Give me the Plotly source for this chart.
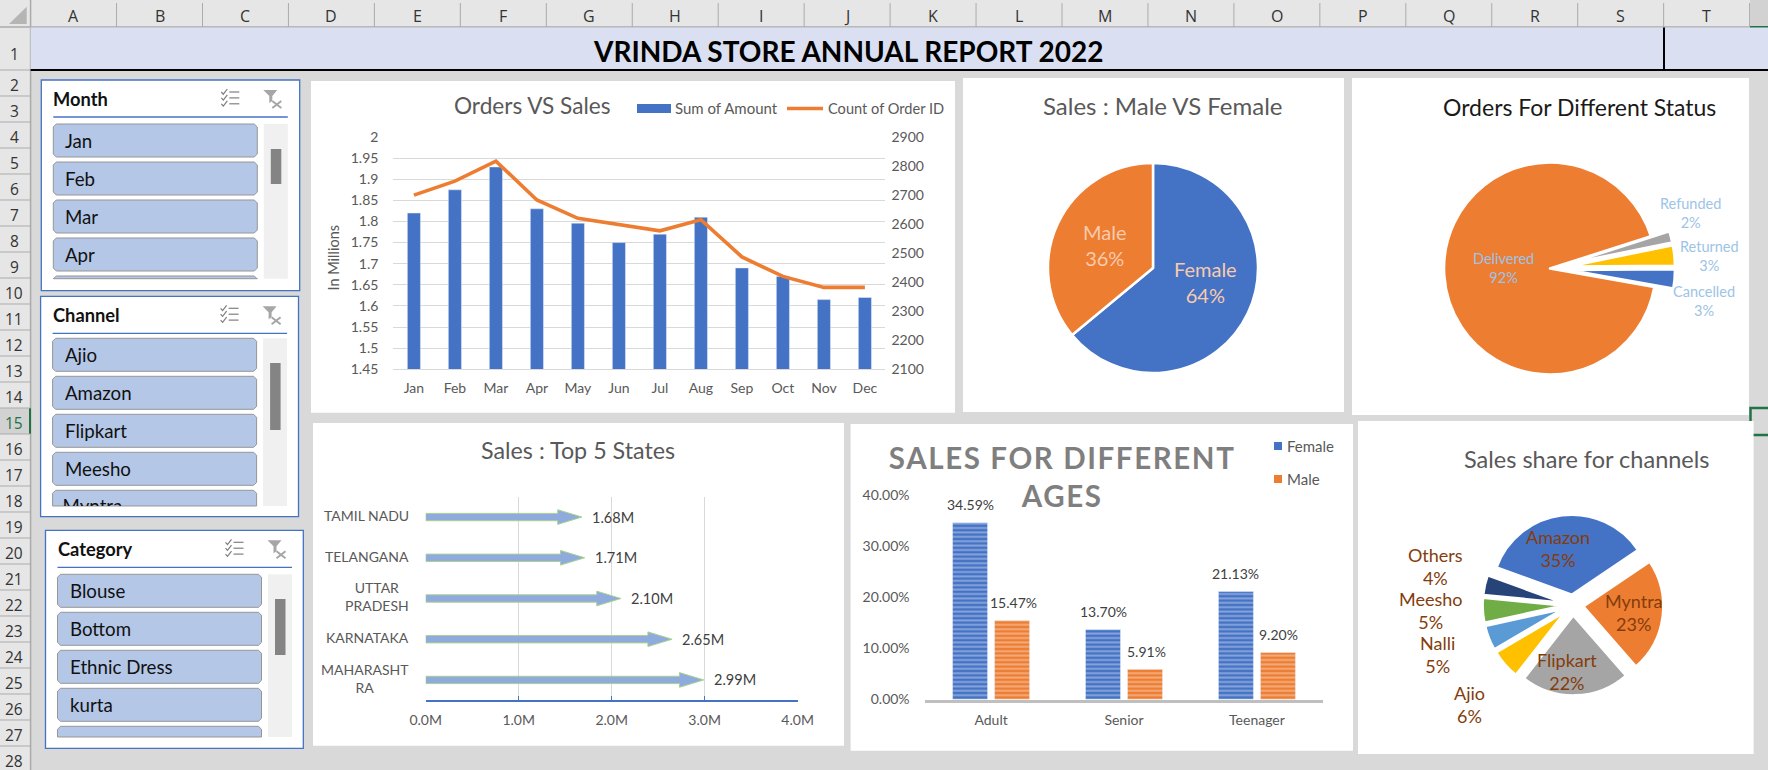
import plotly.graph_objects as go

# ---------- data ----------
months = ["Jan","Feb","Mar","Apr","May","Jun","Jul","Aug","Sep","Oct","Nov","Dec"]
sales_millions = [1.82,1.875,1.929,1.83,1.796,1.75,1.77,1.81,1.69,1.67,1.615,1.62]
order_counts = [2700,2748,2817,2683,2620,2600,2577,2615,2487,2420,2382,2382]

gender_labels = ["Female","Male"]
gender_values = [64,36]

status_labels = ["Delivered","Refunded","Returned","Cancelled"]
status_values = [92.3,1.7,3.1,2.9]

state_labels = ["MAHARASHT<br>RA","KARNATAKA","UTTAR<br>PRADESH","TELANGANA","TAMIL NADU"]
state_values = [2.99,2.65,2.10,1.71,1.68]

age_groups = ["Adult","Senior","Teenager"]
age_female = [34.59,13.70,21.13]
age_male = [15.47,5.91,9.20]

channel_labels = ["Amazon","Myntra","Flipkart","Ajio","Nalli","Meesho","Others"]
channel_values = [35,23,22,6,5,5,4]

month_items = ["Jan","Feb","Mar","Apr"]
channel_items = ["Ajio","Amazon","Flipkart","Meesho"]
category_items = ["Blouse","Bottom","Ethnic Dress","kurta"]
column_letters = list("ABCDEFGHIJKLMNOPQRST")

# ---------- helpers ----------
W, H = 1768, 770
BLUE, ORANGE, GRAY = "#4472C4", "#ED7D31", "#A5A5A5"
TXT, FONT = "#595959", "Lato"
X = lambda v: v / W
Y = lambda v: 1 - v / H
shapes, notes = [], []

def rect(x0, y0, x1, y1, fill=None, line=None, lw=1, layer="below"):
    shapes.append(dict(type="rect", xref="paper", yref="paper", x0=X(x0), x1=X(x1), y0=Y(y0), y1=Y(y1),
                       fillcolor=fill or "rgba(0,0,0,0)", line=dict(color=line or "rgba(0,0,0,0)", width=lw if line else 0), layer=layer))

def seg(x0, y0, x1, y1, color, lw=1):
    shapes.append(dict(type="line", xref="paper", yref="paper", x0=X(x0), x1=X(x1), y0=Y(y0), y1=Y(y1),
                       line=dict(color=color, width=lw), layer="below"))

def poly(points, fill=None, line=None, lw=1):
    d = "M" + " L".join(f"{X(a):.5f},{Y(b):.5f}" for a, b in points)
    shapes.append(dict(type="path", xref="paper", yref="paper", path=d + (" Z" if fill else ""),
                       fillcolor=fill or "rgba(0,0,0,0)", line=dict(color=line or "rgba(0,0,0,0)", width=lw if line else 0), layer="below"))

def note(x, y, text, size=14, color=TXT, anchor="center", font=FONT, **kw):
    notes.append(dict(xref="paper", yref="paper", x=X(x), y=Y(y), text=text, showarrow=False, xanchor=anchor,
                      yanchor="middle", font=dict(family=font, size=size, color=color), **kw))

def button(x0, y0, x1, y1, r=3, bottom=True):
    pts = [(x0, y1 - (r if bottom else 0)), (x0, y0 + r), (x0 + r, y0), (x1 - r, y0), (x1, y0 + r), (x1, y1 - (r if bottom else 0))]
    if bottom:
        pts += [(x1 - r, y1), (x0 + r, y1)]
    d = "M" + " L".join(f"{X(a):.5f},{Y(b):.5f}" for a, b in pts)
    shapes.append(dict(type="path", xref="paper", yref="paper", path=d + " Z", fillcolor="#B4C7E7",
                       line=dict(color="#969696", width=1), layer="below"))

def slicer(l, t, r, b, title, items, track_bottom, thumb_top, thumb_bot, first=44):
    rect(l, t, r, b, "#FFFFFF", BLUE, 1.3)
    note(l + 10, t + 19, f"<b>{title}</b>", 18.3, "#111111", "left")
    seg(l + 12, t + 37, l + 246.5, t + 37, BLUE, 1.3)
    y = t + first
    for it in items:
        button(l + 12, y, l + 216, y + 33)
        note(l + 22, y + 17, it, 18.7, "#111111", "left")
        y += 38
    button(l + 12, y, l + 216, track_bottom, bottom=False)
    rect(l + 222.5, t + first, l + 246.5, track_bottom, "#F0F0F0")
    rect(l + 229.5, thumb_top, l + 240, thumb_bot, "#848484")
    cy = t + 12
    for k in range(3):
        yy = cy + k * 5.9
        poly([(l + 180, yy), (l + 182, yy + 2.2), (l + 186, yy - 3)], None, "#7F7F7F", 1.2)
        seg(l + 188, yy, l + 198, yy, "#7F7F7F", 1.2)
    poly([(l + 222, t + 10), (l + 236, t + 10), (l + 231, t + 16), (l + 231, t + 21), (l + 228, t + 23), (l + 228, t + 16)], "#A6A6A6")
    seg(l + 231, t + 21, l + 240, t + 28, "#A6A6A6", 2)
    seg(l + 240, t + 21, l + 231, t + 28, "#A6A6A6", 2)

# ---------- sheet chrome ----------
rect(0, 0, W, 27, "#E6E6E6")
rect(0, 27, 30.6, H, "#E6E6E6")
seg(0, 27, W, 27, "#ABABAB", 1.5)
seg(30.6, 0, 30.6, H, "#ABABAB", 1.5)
poly([(26.7, 6.7), (26.7, 24), (9, 24)], "#B5B5B5")
col_w = 85.95
for i, letter in enumerate(column_letters):
    seg(30.6 + col_w * (i + 1), 3, 30.6 + col_w * (i + 1), 27, "#ABABAB", 1)
    note(30.6 + col_w * (i + 0.5), 16, letter, 16, "#333333", font="Open Sans")
rect(1750, 0, W, 27, "#D2D2D2")
seg(1750, 27, W, 27, "#217346", 2)
rect(0, 408, 30.6, 434, "#D2D2D2")
seg(30, 408, 30, 434, "#217346", 2)
for n in range(2, 29):
    seg(0, 70 + 26 * (n - 1), 30.6, 70 + 26 * (n - 1), "#ABABAB", 1)
    note(14, 85 + 26 * (n - 2), str(n), 15.5, "#217346" if n == 15 else "#333333", font="Open Sans")
note(14, 54, "1", 15.5, "#333333", font="Open Sans")
seg(0, 70, 30.6, 70, "#ABABAB", 1)

rect(30.6, 27.5, W, 70, "#DAE0F2")
seg(30.6, 70, W, 70, "#000000", 2)
seg(1664, 27.5, 1664, 70, "#000000", 2)
note(848, 51, "<b>VRINDA STORE ANNUAL REPORT 2022</b>", 28, "#000000")
rect(1750.5, 408, W + 5, 435, None, "#217346", 2.5)

# ---------- slicers ----------
slicer(41.3, 80, 299.7, 290.7, "Month", month_items, 278.7, 149, 184)
slicer(40.6, 296.3, 298.5, 516.7, "Channel", channel_items, 506, 363, 430, first=42)
slicer(45.5, 530.3, 303.3, 748.3, "Category", category_items, 737, 599, 655)

# ---------- panels ----------
rect(311, 81, 955, 412.7, "#FFFFFF")
rect(963, 78, 1344, 412, "#FFFFFF")
rect(1352, 78, 1749, 415, "#FFFFFF")
rect(313, 423, 844, 745.7, "#FFFFFF")
rect(850.6, 424, 1353, 750.7, "#FFFFFF")
rect(1358, 421, 1753.6, 754, "#FFFFFF")

traces = []

# ---------- orders vs sales ----------
traces.append(go.Bar(x=months, y=sales_millions, xaxis="x", yaxis="y", marker_color=BLUE, width=0.32, name="Sum of Amount"))
traces.append(go.Scatter(x=months, y=order_counts, xaxis="x", yaxis="y2", mode="lines",
                         line=dict(color=ORANGE, width=3.6), name="Count of Order ID"))
note(532, 106, "Orders VS Sales", 22.6, TXT)
note(333, 257.5, "In Millions", 14.5, TXT, textangle=-90)
rect(637, 104, 671, 113, BLUE)
seg(787, 108.5, 823, 108.5, ORANGE, 3.6)
note(673, 108, "Sum of Amount", 15, TXT, "left")
note(826, 108, "Count of Order ID", 14.6, TXT, "left")

# ---------- gender pie ----------
traces.append(go.Pie(labels=gender_labels, values=gender_values, sort=False, direction="clockwise", rotation=0,
                     textinfo="none", hole=0, marker=dict(colors=[BLUE, ORANGE], line=dict(color="#FFFFFF", width=2.5)),
                     domain=dict(x=[X(1048), X(1258)], y=[Y(373), Y(163)])))
note(1162.6, 105.5, "Sales : Male VS Female", 24, TXT)
for (lx, ly), lab, v in zip([(1205.6, 282.5), (1105, 244.5)], gender_labels, gender_values):
    note(lx, ly, f"{lab}<br>{v}%", 20, "#F8CBAD")

# ---------- status pie ----------
traces.append(go.Pie(labels=status_labels, values=status_values, sort=False, direction="clockwise", rotation=100,
                     textinfo="none", pull=[0, 0.18, 0.18, 0.18],
                     marker=dict(colors=[ORANGE, GRAY, "#FFC000", BLUE], line=dict(color="#FFFFFF", width=2.5)),
                     domain=dict(x=[X(1425), X(1675)], y=[Y(393.5), Y(143.5)])))
note(1579, 107, "Orders For Different Status", 23, "#1A1A1A")
for (lx, ly), lab, v in zip([(1503, 268), (1690.7, 213), (1709.5, 256), (1704, 301)], status_labels, status_values):
    note(lx, ly, f"{lab}<br>{v:.0f}%", 14.5, "#9DC3E6")

# ---------- top states ----------
HEAD_X, HEAD_Y, BODY_Y = 0.26, 0.18, 0.09
for i, v in enumerate(state_values):
    c = i + 0.5
    traces.append(go.Scatter(
        x=[0, v - HEAD_X, v - HEAD_X, v, v - HEAD_X, v - HEAD_X, 0, 0],
        y=[c - BODY_Y, c - BODY_Y, c - HEAD_Y, c, c + HEAD_Y, c + BODY_Y, c + BODY_Y, c - BODY_Y],
        xaxis="x2", yaxis="y3", mode="lines", fill="toself", fillcolor="#8FAADC",
        line=dict(color="#A9D18E", width=1), name=state_labels[i].replace("<br>", "")))
    notes.append(dict(xref="x2", yref="y3", x=v, y=c, text=f"{v:.2f}M", showarrow=False, xanchor="left", yanchor="middle",
                      xshift=8, font=dict(family=FONT, size=14.5, color="#404040")))
    notes.append(dict(xref="x2 domain", yref="y3", x=0, y=c, text=state_labels[i], showarrow=False, xanchor="right",
                      yanchor="middle", align="center", xshift=-15, yshift=1.5, font=dict(family=FONT, size=14, color=TXT)))
note(578, 450, "Sales : Top 5 States", 23.3, TXT)

# ---------- ages ----------
STRIPE = dict(shape="-", size=4.4, solidity=0.45)
traces.append(go.Bar(x=age_groups, y=age_female, xaxis="x3", yaxis="y4", name="Female",
                     marker=dict(color=BLUE, pattern=dict(fgcolor="#C8D5EF", **STRIPE))))
traces.append(go.Bar(x=age_groups, y=age_male, xaxis="x3", yaxis="y4", name="Male",
                     marker=dict(color=ORANGE, pattern=dict(fgcolor="#FAD9C3", **STRIPE))))
for vals, shift in ((age_female, -21), (age_male, 22)):
    for g, v in zip(age_groups, vals):
        notes.append(dict(xref="x3", yref="y4", x=g, y=v, text=f"{v:.2f}%", showarrow=False, xanchor="center", yanchor="middle",
                          xshift=shift, yshift=18, font=dict(family=FONT, size=14, color="#404040")))
note(1062.5, 476, "<b>SALES FOR DIFFERENT<br>AGES</b>", 29.5, "#7F7F7F")
rect(1274, 442, 1282, 450, BLUE)
rect(1274, 475, 1282, 483, ORANGE)
note(1285, 445.5, "Female", 15, TXT, "left")
note(1285, 478.5, "Male", 15, TXT, "left")

# ---------- channel pie ----------
traces.append(go.Pie(labels=channel_labels, values=channel_values, sort=False, direction="clockwise", rotation=290,
                     textinfo="none", pull=0.13,
                     marker=dict(colors=[BLUE, ORANGE, GRAY, "#FFC000", "#5B9BD5", "#70AD47", "#264478"],
                                 line=dict(color="#FFFFFF", width=2.5)),
                     domain=dict(x=[X(1482.6), X(1663.4)], y=[Y(695.4), Y(514.6)])))
note(1587, 459, "Sales share for channels", 23.5, TXT)
label_pos = [(1558, 548), (1633.5, 612), (1566.6, 671.5), (1469, 704), (1437.6, 654), (1430.5, 610), (1435, 566)]
for (lx, ly), lab, v in zip(label_pos, channel_labels, channel_values):
    note(lx, ly, f"{lab}<br>{v}%", 18, "#843C0C")

# clipped slicer item (only the top of the word is visible above the slicer's edge)
traces.append(go.Scatter(x=[62.6], y=[508], text=["Myntra"], mode="text", textposition="middle right", xaxis="x5", yaxis="y6",
                         textfont=dict(family=FONT, size=18.7, color="#111111"), cliponaxis=True))

fig = go.Figure(traces)
common = dict(showgrid=False, zeroline=False, fixedrange=True, automargin=False)
tick = dict(family=FONT, size=14, color=TXT)
fig.update_layout(
    width=W, height=H, autosize=False, margin=dict(l=0, r=0, t=0, b=0, pad=0),
    paper_bgcolor="#D9D9D9", plot_bgcolor="rgba(0,0,0,0)", showlegend=False,
    shapes=shapes, annotations=notes, barmode="group", bargap=0.368, bargroupgap=0.167,
    font=dict(family=FONT),
    xaxis=dict(domain=[X(393.4), X(885.4)], anchor="y", tickfont=tick, showline=True, linecolor="#D9D9D9", linewidth=1,
               ticklabelstandoff=6, **common),
    yaxis=dict(domain=[Y(369.3), Y(137)], range=[1.45, 2], dtick=0.05, tick0=1.45, tickformat=".2~f", tickfont=tick, anchor="x",
               showgrid=True, gridcolor="#D9D9D9", gridwidth=1, zeroline=False, ticklabelstandoff=14, fixedrange=True, automargin=False),
    yaxis2=dict(overlaying="y", side="right", anchor="x", range=[2100, 2900], dtick=100, tickfont=tick, ticklabelstandoff=5, **common),
    xaxis2=dict(domain=[X(425.7), X(797.6)], anchor="y3", range=[0, 4], dtick=1, tickformat=".1f", ticksuffix="M", tickfont=tick,
                showgrid=True, gridcolor="#D9D9D9", zeroline=False, showline=True, linecolor=BLUE, linewidth=1.5,
                ticks="inside", ticklen=5, tickcolor=BLUE, tickwidth=1, ticklabelstandoff=6, fixedrange=True, automargin=False),
    yaxis3=dict(domain=[Y(700.3), Y(496.7)], anchor="x2", range=[0, 5], visible=False, fixedrange=True, automargin=False),
    xaxis3=dict(domain=[X(924.6), X(1323.4)], anchor="y4", tickfont=tick, showline=True, linecolor="#BFBFBF", linewidth=3,
                ticklabelstandoff=6, **common),
    yaxis4=dict(domain=[Y(699.5), Y(495)], anchor="x3", range=[0, 40], dtick=10, tickformat=".2f", ticksuffix="%", tickfont=tick,
                ticklabelstandoff=14, **common),
    xaxis5=dict(domain=[X(52), X(257)], anchor="y6", range=[52, 257], visible=False, fixedrange=True, automargin=False),
    yaxis6=dict(domain=[Y(506), Y(488)], anchor="x5", range=[506, 488], visible=False, fixedrange=True, automargin=False),
)
fig.update_traces(hoverinfo="skip")

post = """
document.body.style.margin = '0';
document.querySelectorAll('text').forEach(function (t) {
  if (t.textContent.indexOf('SALES FOR DIFFERENT') === 0) { t.style.letterSpacing = '1.6px'; }
});
"""
fig.write_html("out.html", post_script=post, config=dict(displayModeBar=False))
